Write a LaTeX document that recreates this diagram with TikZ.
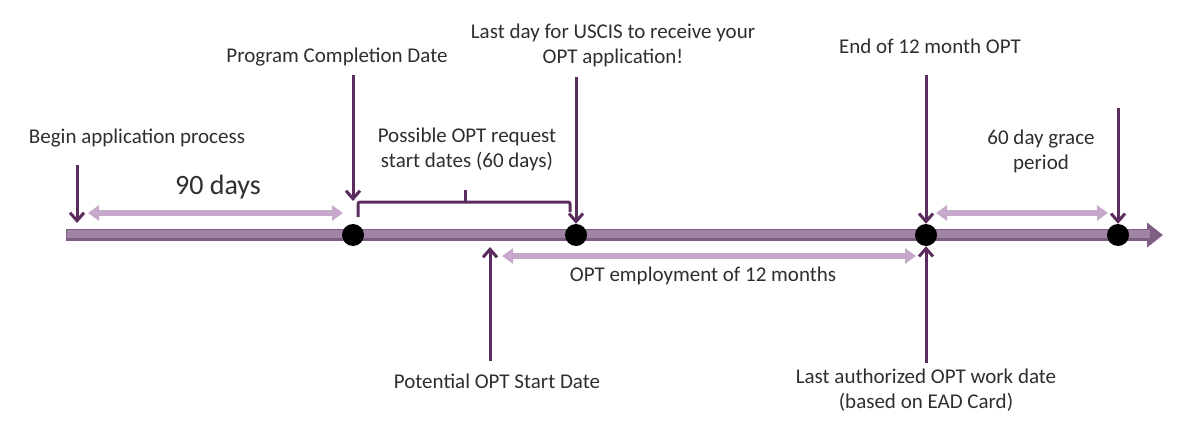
\documentclass[tikz,border=0pt]{standalone}
\usepackage{fontspec}
\setmainfont{Carlito}
\usetikzlibrary{arrows.meta}
\definecolor{dpurple}{HTML}{5A2D5E}
\definecolor{mpurple}{HTML}{7E5E82}
\definecolor{mlight}{HTML}{A084A3}
\definecolor{lpurple}{HTML}{C6A9CA}
\definecolor{txt}{HTML}{2E2E2E}
\begin{document}
\begin{tikzpicture}[x=1pt,y=-1pt,
  lbl/.style={text=txt,font=\fontsize{21}{25}\selectfont,align=center,inner sep=0pt},
  big/.style={text=txt,font=\fontsize{28}{30}\selectfont,inner sep=0pt},
  dot/.style={circle,fill=black,minimum size=22pt,inner sep=0pt},
  mainline/.style={line width=12pt,mpurple,-{Triangle[width=24pt,length=16pt]}},
  mainhi/.style={line width=8.5pt,mlight},
  darr/.style={line width=3pt,dpurple,-{Straight Barb[length=8pt,width=14pt,line width=3pt]}},
  larr/.style={line width=6pt,lpurple,{Triangle[width=15pt,length=11pt]}-{Triangle[width=15pt,length=11pt]}},
  brace/.style={line width=3pt,dpurple,rounded corners=2pt}]
\useasboundingbox (0,0) rectangle (1198,428);
% main timeline
\coordinate (ls) at (66,235);
\coordinate (le) at (1163,235);
\coordinate (hs) at (67,234);
\coordinate (he) at (1150,234);
\draw[mainline] (ls) -- (le);
\draw[mainhi] (hs) -- (he);
% dots
\node[dot] (d1) at (353,235) {};
\node[dot] (d2) at (576,235) {};
\node[dot] (d3) at (926,235) {};
\node[dot] (d4) at (1118,235) {};
% labels
\node[lbl] (tbegin) at (137,138) {Begin application process};
\node[big] (tninety) at (218,187) {90 days};
\node[lbl] (tprog) at (337,57) {Program Completion Date};
\node[lbl] (tposs) at (467,149) {Possible OPT request\\start dates (60 days)};
\node[lbl] (tlast) at (613,45) {Last day for USCIS to receive your\\OPT application!};
\node[lbl] (tend) at (930,46) {End of 12 month OPT};
\node[lbl] (tgrace) at (1041,151) {60 day grace\\period};
\node[lbl] (tpot) at (497,381) {Potential OPT Start Date};
\node[lbl] (temp) at (703,276) {OPT employment of 12 months};
\node[lbl] (tauth) at (926,390) {Last authorized OPT work date\\(based on EAD Card)};
% dark arrows
\coordinate (a1s) at (77,165);  \coordinate (a1e) at (77,223);
\draw[darr] (a1s) -- (a1e);
\coordinate (a2s) at (353,75);  \coordinate (a2e) at (353,201);
\draw[darr] (a2s) -- (a2e);
\coordinate (a3s) at (576,77);
\draw[darr] (a3s) -- (d2.north);
\coordinate (a4s) at (926,75);
\draw[darr] (a4s) -- (d3.north);
\coordinate (a5s) at (1118,108);
\draw[darr] (a5s) -- (d4.north);
\coordinate (a6s) at (490,361); \coordinate (a6e) at (490,247);
\draw[darr] (a6s) -- (a6e);
\coordinate (a7s) at (926,363);
\draw[darr] (a7s) -- (d3.south);
% bracket
\coordinate (b1) at (358,217); \coordinate (b2) at (358,202);
\coordinate (b3) at (570,202); \coordinate (b4) at (570,212);
\coordinate (bm) at (465,202); \coordinate (bt) at (465,190);
\draw[brace] (b1) -- (b2) -- (b3) -- (b4);
\draw[brace] (bm) -- (bt);
% light double arrows
\coordinate (l1s) at (88,213);  \coordinate (l1e) at (343,213);
\draw[larr] (l1s) -- (l1e);
\coordinate (l2s) at (936,213); \coordinate (l2e) at (1108,213);
\draw[larr] (l2s) -- (l2e);
\coordinate (l3s) at (502,256); \coordinate (l3e) at (916,256);
\draw[larr] (l3s) -- (l3e);
\end{tikzpicture}
\end{document}
